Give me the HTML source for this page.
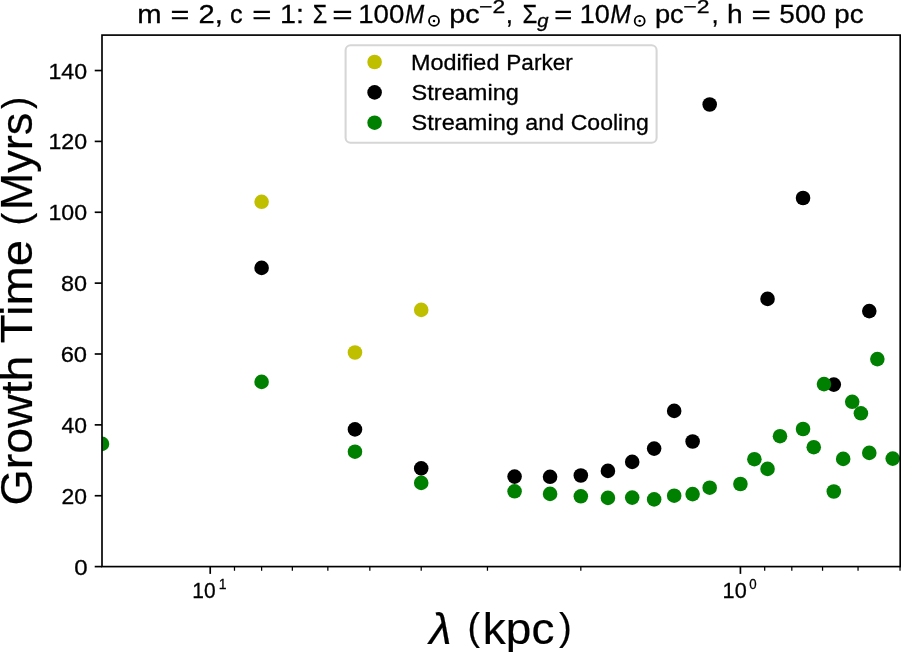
<!DOCTYPE html><html><head><meta charset="utf-8"><style>html,body{margin:0;padding:0;background:#fff;overflow:hidden}svg{display:block;will-change:transform}text{font-family:"Liberation Sans", sans-serif;fill:#000}</style></head><body><svg width="901" height="652" viewBox="0 0 901 652"><defs><clipPath id="ax"><rect x="102.00" y="35.10" width="798.20" height="531.50"/></clipPath></defs><g clip-path="url(#ax)"><circle cx="261.61" cy="201.80" r="7.29" fill="#bfbf00"/><circle cx="354.97" cy="352.50" r="7.29" fill="#bfbf00"/><circle cx="421.21" cy="309.90" r="7.29" fill="#bfbf00"/><circle cx="261.61" cy="267.90" r="7.29" fill="#000"/><circle cx="354.97" cy="429.40" r="7.29" fill="#000"/><circle cx="421.21" cy="468.40" r="7.29" fill="#000"/><circle cx="514.58" cy="476.60" r="7.29" fill="#000"/><circle cx="550.07" cy="476.80" r="7.29" fill="#000"/><circle cx="580.82" cy="475.50" r="7.29" fill="#000"/><circle cx="607.94" cy="470.90" r="7.29" fill="#000"/><circle cx="632.20" cy="461.90" r="7.29" fill="#000"/><circle cx="654.15" cy="448.60" r="7.29" fill="#000"/><circle cx="674.18" cy="410.90" r="7.29" fill="#000"/><circle cx="692.61" cy="441.50" r="7.29" fill="#000"/><circle cx="709.68" cy="104.50" r="7.29" fill="#000"/><circle cx="767.55" cy="298.90" r="7.29" fill="#000"/><circle cx="803.04" cy="198.00" r="7.29" fill="#000"/><circle cx="833.79" cy="384.60" r="7.29" fill="#000"/><circle cx="869.28" cy="311.10" r="7.29" fill="#000"/><circle cx="102.00" cy="443.90" r="7.29" fill="#008000"/><circle cx="261.61" cy="381.90" r="7.29" fill="#008000"/><circle cx="354.97" cy="451.70" r="7.29" fill="#008000"/><circle cx="421.21" cy="482.90" r="7.29" fill="#008000"/><circle cx="514.58" cy="491.30" r="7.29" fill="#008000"/><circle cx="550.07" cy="493.90" r="7.29" fill="#008000"/><circle cx="580.82" cy="496.30" r="7.29" fill="#008000"/><circle cx="607.94" cy="497.90" r="7.29" fill="#008000"/><circle cx="632.20" cy="497.60" r="7.29" fill="#008000"/><circle cx="654.15" cy="499.40" r="7.29" fill="#008000"/><circle cx="674.18" cy="495.70" r="7.29" fill="#008000"/><circle cx="692.61" cy="494.10" r="7.29" fill="#008000"/><circle cx="709.68" cy="487.70" r="7.29" fill="#008000"/><circle cx="740.42" cy="484.00" r="7.29" fill="#008000"/><circle cx="754.38" cy="459.20" r="7.29" fill="#008000"/><circle cx="767.55" cy="468.90" r="7.29" fill="#008000"/><circle cx="780.00" cy="436.20" r="7.29" fill="#008000"/><circle cx="803.04" cy="429.00" r="7.29" fill="#008000"/><circle cx="813.75" cy="447.20" r="7.29" fill="#008000"/><circle cx="823.99" cy="384.10" r="7.29" fill="#008000"/><circle cx="833.79" cy="491.50" r="7.29" fill="#008000"/><circle cx="843.19" cy="458.90" r="7.29" fill="#008000"/><circle cx="852.22" cy="401.80" r="7.29" fill="#008000"/><circle cx="860.91" cy="413.30" r="7.29" fill="#008000"/><circle cx="869.28" cy="452.90" r="7.29" fill="#008000"/><circle cx="877.36" cy="359.10" r="7.29" fill="#008000"/><circle cx="892.72" cy="458.60" r="7.29" fill="#008000"/></g><g stroke="#000" stroke-width="1.67"><line x1="94.71" y1="566.60" x2="102.00" y2="566.60"/><line x1="94.71" y1="495.73" x2="102.00" y2="495.73"/><line x1="94.71" y1="424.87" x2="102.00" y2="424.87"/><line x1="94.71" y1="354.00" x2="102.00" y2="354.00"/><line x1="94.71" y1="283.13" x2="102.00" y2="283.13"/><line x1="94.71" y1="212.27" x2="102.00" y2="212.27"/><line x1="94.71" y1="141.40" x2="102.00" y2="141.40"/><line x1="94.71" y1="70.53" x2="102.00" y2="70.53"/></g><g stroke="#000" stroke-width="1.67"><line x1="210.22" y1="566.60" x2="210.22" y2="573.89"/><line x1="740.42" y1="566.60" x2="740.42" y2="573.89"/></g><g stroke="#000" stroke-width="1.25"><line x1="900.03" y1="566.60" x2="900.03" y2="570.77"/><line x1="858.05" y1="566.60" x2="858.05" y2="570.77"/><line x1="822.55" y1="566.60" x2="822.55" y2="570.77"/><line x1="791.81" y1="566.60" x2="791.81" y2="570.77"/><line x1="764.69" y1="566.60" x2="764.69" y2="570.77"/><line x1="580.82" y1="566.60" x2="580.82" y2="570.77"/><line x1="487.45" y1="566.60" x2="487.45" y2="570.77"/><line x1="421.21" y1="566.60" x2="421.21" y2="570.77"/><line x1="369.83" y1="566.60" x2="369.83" y2="570.77"/><line x1="327.85" y1="566.60" x2="327.85" y2="570.77"/><line x1="292.35" y1="566.60" x2="292.35" y2="570.77"/><line x1="261.61" y1="566.60" x2="261.61" y2="570.77"/><line x1="234.49" y1="566.60" x2="234.49" y2="570.77"/></g><rect x="102.00" y="35.10" width="798.20" height="531.50" fill="none" stroke="#000" stroke-width="1.67"/><rect x="345.6" y="45.2" width="311.0" height="97.5" rx="5" ry="5" fill="#fff" stroke="#d6d6d6" stroke-width="2.08"/><circle cx="374.6" cy="62.0" r="7.29" fill="#bfbf00"/><circle cx="374.6" cy="92.4" r="7.29" fill="#000"/><circle cx="374.6" cy="122.7" r="7.29" fill="#008000"/><circle cx="434.00" cy="20.9" r="5.0" fill="none" stroke="#000" stroke-width="1.8"/><circle cx="434.00" cy="20.9" r="1.25" fill="#000"/><circle cx="639.70" cy="20.9" r="5.0" fill="none" stroke="#000" stroke-width="1.8"/><circle cx="639.70" cy="20.9" r="1.25" fill="#000"/><text x="74.37" y="574.65" font-size="22.08" style="stroke:#000;stroke-width:0.30px;" textLength="13.34" lengthAdjust="spacingAndGlyphs">0</text><text x="61.50" y="503.78" font-size="22.08" style="stroke:#000;stroke-width:0.30px;" textLength="25.47" lengthAdjust="spacingAndGlyphs">20</text><text x="61.48" y="432.92" font-size="22.08" style="stroke:#000;stroke-width:0.30px;" textLength="25.49" lengthAdjust="spacingAndGlyphs">40</text><text x="60.65" y="362.05" font-size="22.08" style="stroke:#000;stroke-width:0.30px;" textLength="26.39" lengthAdjust="spacingAndGlyphs">60</text><text x="60.91" y="291.18" font-size="22.08" style="stroke:#000;stroke-width:0.30px;" textLength="26.06" lengthAdjust="spacingAndGlyphs">80</text><text x="48.43" y="220.32" font-size="22.08" style="stroke:#000;stroke-width:0.30px;" textLength="38.66" lengthAdjust="spacingAndGlyphs">100</text><text x="48.43" y="149.45" font-size="22.08" style="stroke:#000;stroke-width:0.30px;" textLength="38.66" lengthAdjust="spacingAndGlyphs">120</text><text x="48.43" y="78.58" font-size="22.08" style="stroke:#000;stroke-width:0.30px;" textLength="38.66" lengthAdjust="spacingAndGlyphs">140</text><text x="192.32" y="597.50" font-size="22.08" style="stroke:#000;stroke-width:0.30px;" textLength="23.28" lengthAdjust="spacingAndGlyphs">10</text><text x="218.86" y="589.20" font-size="15.46" style="stroke:#000;stroke-width:0.30px;" textLength="7.80" lengthAdjust="spacingAndGlyphs">1</text><text x="722.61" y="597.50" font-size="22.08" style="stroke:#000;stroke-width:0.30px;" textLength="24.09" lengthAdjust="spacingAndGlyphs">10</text><text x="749.36" y="589.20" font-size="15.46" style="stroke:#000;stroke-width:0.30px;" textLength="7.41" lengthAdjust="spacingAndGlyphs">0</text><text x="137.32" y="22.70" font-size="26.00" style="stroke:#000;stroke-width:0.30px;" textLength="24.34" lengthAdjust="spacingAndGlyphs">m</text><text x="170.48" y="22.70" font-size="26.00" style="stroke:#000;stroke-width:0.30px;" textLength="18.91" lengthAdjust="spacingAndGlyphs">=</text><text x="198.64" y="22.70" font-size="26.00" style="stroke:#000;stroke-width:0.30px;" textLength="24.30" lengthAdjust="spacingAndGlyphs">2,</text><text x="230.08" y="22.70" font-size="26.00" style="stroke:#000;stroke-width:0.30px;" textLength="12.60" lengthAdjust="spacingAndGlyphs">c</text><text x="252.37" y="22.70" font-size="26.00" style="stroke:#000;stroke-width:0.30px;" textLength="19.20" lengthAdjust="spacingAndGlyphs">=</text><text x="280.10" y="22.70" font-size="26.00" style="stroke:#000;stroke-width:0.30px;" textLength="23.92" lengthAdjust="spacingAndGlyphs">1:</text><text x="312.86" y="22.70" font-size="26.00" style="stroke:#000;stroke-width:0.30px;" textLength="14.39" lengthAdjust="spacingAndGlyphs">Σ</text><text x="332.16" y="22.70" font-size="26.00" style="stroke:#000;stroke-width:0.30px;" textLength="20.39" lengthAdjust="spacingAndGlyphs">=</text><text x="358.16" y="22.70" font-size="26.00" style="stroke:#000;stroke-width:0.30px;" textLength="46.11" lengthAdjust="spacingAndGlyphs">100</text><text x="404.90" y="22.70" font-size="26.00" style="font-style:italic;stroke:#000;stroke-width:0.30px;" textLength="19.26" lengthAdjust="spacingAndGlyphs">M</text><text x="449.20" y="22.70" font-size="26.00" style="stroke:#000;stroke-width:0.30px;" textLength="30.37" lengthAdjust="spacingAndGlyphs">pc</text><text x="479.00" y="12.90" font-size="18.20" style="stroke:#000;stroke-width:0.30px;" textLength="26.15" lengthAdjust="spacingAndGlyphs">−2</text><text x="505.83" y="22.70" font-size="26.00" style="stroke:#000;stroke-width:0.30px;" textLength="7.23" lengthAdjust="spacingAndGlyphs">,</text><text x="522.51" y="22.70" font-size="26.00" style="stroke:#000;stroke-width:0.30px;" textLength="14.79" lengthAdjust="spacingAndGlyphs">Σ</text><text x="537.15" y="26.50" font-size="18.20" style="font-style:italic;stroke:#000;stroke-width:0.30px;" textLength="11.30" lengthAdjust="spacingAndGlyphs">g</text><text x="554.32" y="22.70" font-size="26.00" style="stroke:#000;stroke-width:0.30px;" textLength="18.09" lengthAdjust="spacingAndGlyphs">=</text><text x="579.72" y="22.70" font-size="26.00" style="stroke:#000;stroke-width:0.30px;" textLength="30.10" lengthAdjust="spacingAndGlyphs">10</text><text x="610.17" y="22.70" font-size="26.00" style="font-style:italic;stroke:#000;stroke-width:0.30px;" textLength="20.63" lengthAdjust="spacingAndGlyphs">M</text><text x="654.93" y="22.70" font-size="26.00" style="stroke:#000;stroke-width:0.30px;" textLength="28.83" lengthAdjust="spacingAndGlyphs">pc</text><text x="683.33" y="12.90" font-size="18.20" style="stroke:#000;stroke-width:0.30px;" textLength="26.25" lengthAdjust="spacingAndGlyphs">−2</text><text x="711.50" y="22.70" font-size="26.00" style="stroke:#000;stroke-width:0.30px;" textLength="7.23" lengthAdjust="spacingAndGlyphs">,</text><text x="727.07" y="22.70" font-size="26.00" style="stroke:#000;stroke-width:0.30px;" textLength="15.69" lengthAdjust="spacingAndGlyphs">h</text><text x="751.46" y="22.70" font-size="26.00" style="stroke:#000;stroke-width:0.30px;" textLength="19.26" lengthAdjust="spacingAndGlyphs">=</text><text x="779.38" y="22.70" font-size="26.00" style="stroke:#000;stroke-width:0.30px;" textLength="46.65" lengthAdjust="spacingAndGlyphs">500</text><text x="834.37" y="22.70" font-size="26.00" style="stroke:#000;stroke-width:0.30px;" textLength="29.25" lengthAdjust="spacingAndGlyphs">pc</text><text x="410.95" y="69.60" font-size="21.75" style="stroke:#000;stroke-width:0.30px;" textLength="88.47" lengthAdjust="spacingAndGlyphs">Modified</text><text x="506.27" y="69.60" font-size="21.75" style="stroke:#000;stroke-width:0.30px;" textLength="66.51" lengthAdjust="spacingAndGlyphs">Parker</text><text x="411.63" y="99.80" font-size="21.75" style="stroke:#000;stroke-width:0.30px;" textLength="107.25" lengthAdjust="spacingAndGlyphs">Streaming</text><text x="411.63" y="129.80" font-size="21.75" style="stroke:#000;stroke-width:0.30px;" textLength="107.25" lengthAdjust="spacingAndGlyphs">Streaming</text><text x="525.38" y="129.80" font-size="21.75" style="stroke:#000;stroke-width:0.30px;" textLength="38.76" lengthAdjust="spacingAndGlyphs">and</text><text x="570.75" y="129.80" font-size="21.75" style="stroke:#000;stroke-width:0.30px;" textLength="78.06" lengthAdjust="spacingAndGlyphs">Cooling</text><text x="429.16" y="643.50" font-size="43.96" style="font-style:italic;stroke:#000;stroke-width:0.20px;" textLength="22.35" lengthAdjust="spacingAndGlyphs">λ</text><text x="467.46" y="640.40" font-size="39.50" style="stroke:#000;stroke-width:0.20px;" textLength="12.54" lengthAdjust="spacingAndGlyphs">(</text><text x="482.88" y="643.50" font-size="43.96" style="stroke:#000;stroke-width:0.20px;" textLength="71.48" lengthAdjust="spacingAndGlyphs">kpc</text><text x="558.88" y="640.40" font-size="39.50" style="stroke:#000;stroke-width:0.20px;" textLength="12.79" lengthAdjust="spacingAndGlyphs">)</text><text transform="translate(31.90 505.51) rotate(-90)" x="0" y="0" font-size="43.96" style="stroke:#000;stroke-width:0.20px;" textLength="149.97" lengthAdjust="spacingAndGlyphs">Growth</text><text transform="translate(31.90 343.18) rotate(-90)" x="0" y="0" font-size="43.96" style="stroke:#000;stroke-width:0.20px;" textLength="103.36" lengthAdjust="spacingAndGlyphs">Time</text><text transform="translate(28.90 225.61) rotate(-90)" x="0" y="0" font-size="39.50" style="stroke:#000;stroke-width:0.20px;" textLength="12.64" lengthAdjust="spacingAndGlyphs">(</text><text transform="translate(31.90 210.36) rotate(-90)" x="0" y="0" font-size="43.96" style="stroke:#000;stroke-width:0.20px;" textLength="97.70" lengthAdjust="spacingAndGlyphs">Myrs</text><text transform="translate(28.90 109.06) rotate(-90)" x="0" y="0" font-size="39.50" style="stroke:#000;stroke-width:0.20px;" textLength="12.14" lengthAdjust="spacingAndGlyphs">)</text></svg></body></html>
